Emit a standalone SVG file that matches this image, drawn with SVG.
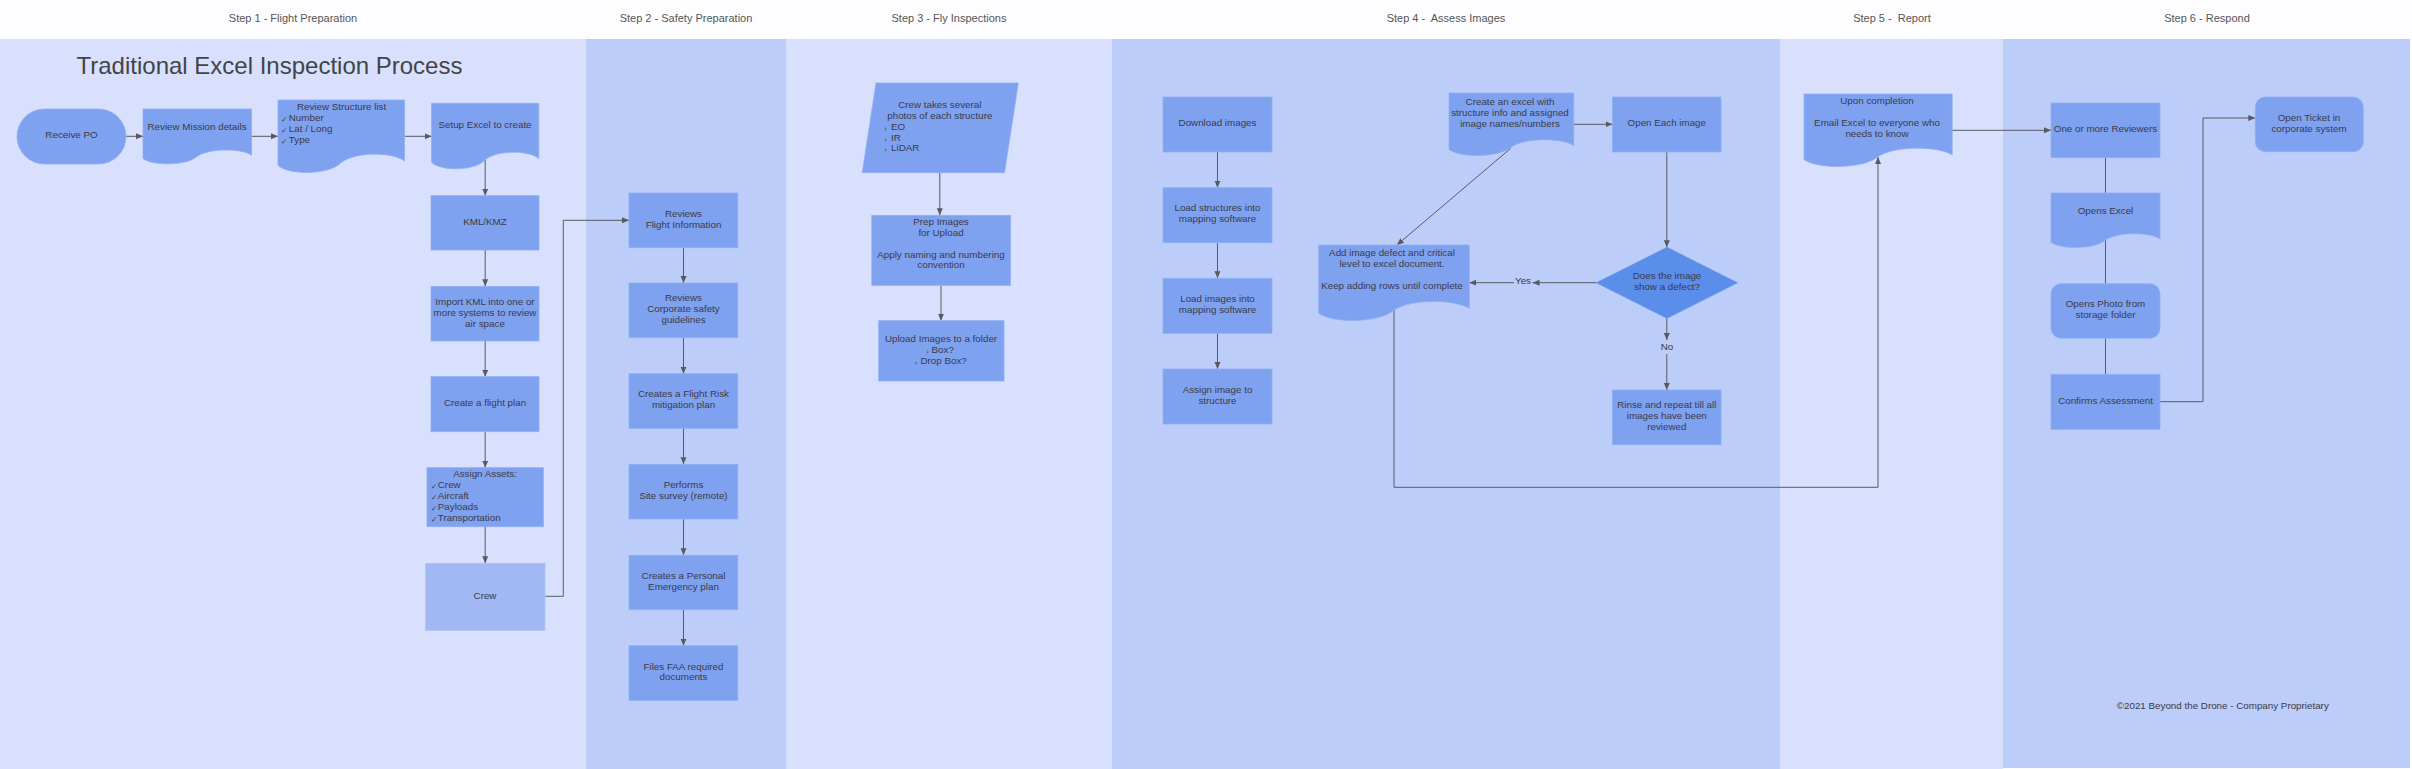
<svg xmlns="http://www.w3.org/2000/svg" width="2412" height="769" viewBox="0 0 2412 769">
<style>
.lh{fill:#d8e0fe}
.ld{fill:#bccdf9}
.n{fill:#7fa2f0;stroke:#90aff3;stroke-width:0.8}
.c{fill:none;stroke:#5a5a5e;stroke-width:1}
.t{font-family:"Liberation Sans",Arial,sans-serif;font-size:9.8px;fill:#3a3a48;text-anchor:middle}
.s{text-anchor:start}
.h{font-family:"Liberation Sans",Arial,sans-serif;font-size:11px;fill:#555;text-anchor:middle}
.ck{font-family:"DejaVu Sans",sans-serif;font-size:7.5px;fill:#3a3a48}
</style>
<defs>
<marker id="a" markerUnits="userSpaceOnUse" markerWidth="8" markerHeight="7" refX="7" refY="3" orient="auto">
<path d="M0,0 L7,3 L0,6 Z" fill="#5a5a5e"/>
</marker>
</defs>
<rect x="0" y="0" width="2412" height="769" fill="#fdfdff"/>
<g id="lanes">
<rect class="lh" x="0" y="39" width="586" height="730"/>
<rect class="ld" x="586" y="39" width="200" height="730"/>
<rect class="lh" x="786" y="39" width="326" height="730"/>
<rect class="ld" x="1112" y="39" width="668" height="730"/>
<rect class="lh" x="1780" y="39" width="223" height="730"/>
<rect class="ld" x="2003" y="39" width="407" height="729"/>
<text class="h" x="293" y="22">Step 1 - Flight Preparation</text>
<text class="h" x="686" y="22">Step 2 - Safety Preparation</text>
<text class="h" x="949" y="22">Step 3 - Fly Inspections</text>
<text class="h" x="1446" y="22" xml:space="preserve">Step 4 -  Assess Images</text>
<text class="h" x="1892" y="22" xml:space="preserve">Step 5 -  Report</text>
<text class="h" x="2207" y="22">Step 6 - Respond</text>
</g>
<text x="76.5" y="74" font-family="Liberation Sans, Arial, sans-serif" font-size="24" fill="#444">Traditional Excel Inspection Process</text>
<g id="connectors">
<path class="c" marker-end="url(#a)" d="M126,136.3 H143"/>
<path class="c" marker-end="url(#a)" d="M251.5,136.3 H278"/>
<path class="c" marker-end="url(#a)" d="M404.5,136.3 H431.6"/>
<path class="c" marker-end="url(#a)" d="M485.2,160 V195.7"/>
<path class="c" marker-end="url(#a)" d="M485.2,250 V286.3"/>
<path class="c" marker-end="url(#a)" d="M485.2,341 V376.7"/>
<path class="c" marker-end="url(#a)" d="M485.2,431.7 V467.7"/>
<path class="c" marker-end="url(#a)" d="M485.2,526.7 V563.3"/>
<path class="c" marker-end="url(#a)" d="M545,596.3 H563.3 V220.3 H629"/>
<path class="c" marker-end="url(#a)" d="M683.5,247.7 V283"/>
<path class="c" marker-end="url(#a)" d="M683.5,337.7 V373.7"/>
<path class="c" marker-end="url(#a)" d="M683.5,428.3 V464.3"/>
<path class="c" marker-end="url(#a)" d="M683.5,519 V555.3"/>
<path class="c" marker-end="url(#a)" d="M683.5,609.7 V645.7"/>
<path class="c" marker-end="url(#a)" d="M939.8,172.7 V215.3"/>
<path class="c" marker-end="url(#a)" d="M941,285.3 V320.7"/>
<path class="c" marker-end="url(#a)" d="M1217.5,152 V187.7"/>
<path class="c" marker-end="url(#a)" d="M1217.5,242.7 V278.3"/>
<path class="c" marker-end="url(#a)" d="M1217.5,333.3 V369"/>
<path class="c" marker-end="url(#a)" d="M1573.7,124.3 H1612.5"/>
<path class="c" marker-end="url(#a)" d="M1510.7,148.3 L1396.9,245"/>
<path class="c" marker-end="url(#a)" d="M1666.8,152 V247.3"/>
<path class="c" marker-end="url(#a)" d="M1596.4,282.7 H1532.5"/>
<path class="c" marker-end="url(#a)" d="M1514,282.7 H1469.3"/>
<path class="c" marker-end="url(#a)" d="M1666.8,318.3 V340"/>
<path class="c" marker-end="url(#a)" d="M1666.8,354 V390"/>
<path class="c" marker-end="url(#a)" d="M1394,310 V487.3 H1878 V157"/>
<path class="c" marker-end="url(#a)" d="M1952.2,130.3 H2051"/>
<path class="c" d="M2105.5,157.7 V193"/>
<path class="c" d="M2105.5,240 V283.7"/>
<path class="c" d="M2105.5,338.3 V374.3"/>
<path class="c" marker-end="url(#a)" d="M2160,401.7 H2203 V118 H2255.3"/>
<text class="t" x="1523" y="284">Yes</text>
<text class="t" x="1667" y="350">No</text>
</g>
<g id="receive-po">
<rect class="n" x="17" y="109" width="109" height="55" rx="27.5"/>
<text class="t" x="71.5" y="138">Receive PO</text>
</g>
<g id="review-mission">
<path class="n" d="M143,109 H251.5 V155.2 C242.8,148.6 210.3,147.5 197.25,156.3 C186.4,166.2 151.7,165.65 143,158.5 Z"/>
<text class="t" x="197" y="130.4">Review Mission details</text>
</g>
<g id="review-structure">
<path class="n" d="M278,100 H404.5 V161.07 C394.38,152.34 356.43,150.89 341.25,162.52 C328.6,175.61 288.12,174.88 278,165.43 Z"/>
<text class="t" x="341.6" y="110">Review Structure list</text>
<text class="ck" x="281" y="122">✓</text><text class="t s" x="288.8" y="121">Number</text>
<text class="ck" x="281" y="133">✓</text><text class="t s" x="288.8" y="132">Lat / Long</text>
<text class="ck" x="281" y="144.4">✓</text><text class="t s" x="288.8" y="143.4">Type</text>
</g>
<g id="setup-excel">
<path class="n" d="M431.6,103.3 H538.8 V158.49 C530.22,150.6 498.06,149.29 485.2,159.8 C474.48,171.63 440.18,170.97 431.6,162.43 Z"/>
<text class="t" x="485" y="128.4">Setup Excel to create</text>
</g>
<g id="kml">
<rect class="n" x="431" y="195.7" width="108" height="54.3"/>
<text class="t" x="485" y="225">KML/KMZ</text>
</g>
<g id="import-kml">
<rect class="n" x="431" y="286.3" width="108" height="54.7"/>
<text class="t" x="485" y="305.4">Import KML into one or</text>
<text class="t" x="485" y="316">more systems to review</text>
<text class="t" x="485" y="326.6">air space</text>
</g>
<g id="flight-plan">
<rect class="n" x="431" y="376.7" width="108" height="55"/>
<text class="t" x="485" y="406">Create a flight plan</text>
</g>
<g id="assign-assets">
<rect class="n" x="427" y="467.7" width="116.4" height="59"/>
<text class="t" x="485" y="477">Assign Assets:</text>
<text class="ck" x="431" y="489">✓</text><text class="t s" x="437.8" y="488">Crew</text>
<text class="ck" x="431" y="500">✓</text><text class="t s" x="437.8" y="499">Aircraft</text>
<text class="ck" x="431" y="511">✓</text><text class="t s" x="437.8" y="510">Payloads</text>
<text class="ck" x="431" y="522">✓</text><text class="t s" x="437.8" y="521">Transportation</text>
</g>
<g id="crew">
<rect x="425.5" y="563.3" width="119.5" height="67" fill="#a1b8f5" stroke="#adc2f6" stroke-width="0.8"/>
<text class="t" x="485" y="599">Crew</text>
</g>
<g id="reviews-flight">
<rect class="n" x="629" y="193" width="108.8" height="54.7"/>
<text class="t" x="683.5" y="217">Reviews</text>
<text class="t" x="683.5" y="228">Flight Information</text>
</g>
<g id="reviews-safety">
<rect class="n" x="629" y="283" width="108.8" height="54.7"/>
<text class="t" x="683.5" y="301">Reviews</text>
<text class="t" x="683.5" y="312">Corporate safety</text>
<text class="t" x="683.5" y="323">guidelines</text>
</g>
<g id="risk-plan">
<rect class="n" x="629" y="373.7" width="108.8" height="54.6"/>
<text class="t" x="683.5" y="397">Creates a Flight Risk</text>
<text class="t" x="683.5" y="408">mitigation plan</text>
</g>
<g id="site-survey">
<rect class="n" x="629" y="464.3" width="108.8" height="54.7"/>
<text class="t" x="683.5" y="488">Performs</text>
<text class="t" x="683.5" y="499">Site survey (remote)</text>
</g>
<g id="emergency-plan">
<rect class="n" x="629" y="555.3" width="108.8" height="54.4"/>
<text class="t" x="683.5" y="579">Creates a Personal</text>
<text class="t" x="683.5" y="590">Emergency plan</text>
</g>
<g id="faa-docs">
<rect class="n" x="629" y="645.7" width="108.8" height="54.6"/>
<text class="t" x="683.5" y="670">Files FAA required</text>
<text class="t" x="683.5" y="680">documents</text>
</g>
<g id="crew-photos">
<polygon class="n" points="876,83 1018.3,83 1004.5,172.7 862.2,172.7"/>
<text class="t" x="939.8" y="108">Crew takes several</text>
<text class="t" x="939.8" y="119">photos of each structure</text>
<text class="ck" x="884" y="131">›</text><text class="t s" x="891" y="130">EO</text>
<text class="ck" x="884" y="142">›</text><text class="t s" x="891" y="141">IR</text>
<text class="ck" x="884" y="152">›</text><text class="t s" x="891" y="151">LiDAR</text>
</g>
<g id="prep-images">
<rect class="n" x="871.8" y="215.3" width="138.7" height="70"/>
<text class="t" x="941" y="225">Prep Images</text>
<text class="t" x="941" y="236">for Upload</text>
<text class="t" x="941" y="258">Apply naming and numbering</text>
<text class="t" x="941" y="268">convention</text>
</g>
<g id="upload-images">
<rect class="n" x="878.7" y="320.7" width="125.3" height="60.3"/>
<text class="t" x="941" y="342">Upload Images to a folder</text>
<text class="ck" x="926" y="354">›</text><text class="t s" x="931.5" y="353">Box?</text>
<text class="ck" x="914.5" y="365">›</text><text class="t s" x="920.5" y="364">Drop Box?</text>
</g>
<g id="download-images">
<rect class="n" x="1163" y="97" width="109" height="55"/>
<text class="t" x="1217.5" y="126">Download images</text>
</g>
<g id="load-structures">
<rect class="n" x="1163" y="187.7" width="109" height="55"/>
<text class="t" x="1217.5" y="211">Load structures into</text>
<text class="t" x="1217.5" y="222">mapping software</text>
</g>
<g id="load-images">
<rect class="n" x="1163" y="278.3" width="109" height="55"/>
<text class="t" x="1217.5" y="302">Load images into</text>
<text class="t" x="1217.5" y="313">mapping software</text>
</g>
<g id="assign-image">
<rect class="n" x="1163" y="369" width="109" height="55"/>
<text class="t" x="1217.5" y="393">Assign image to</text>
<text class="t" x="1217.5" y="404">structure</text>
</g>
<g id="create-excel">
<path class="n" d="M1449,93 H1573.7 V145.67 C1563.72,138.14 1526.31,136.89 1511.35,146.92 C1498.88,158.21 1458.98,157.58 1449,149.43 Z"/>
<text class="t" x="1510" y="105">Create an excel with</text>
<text class="t" x="1510" y="116">structure info and assigned</text>
<text class="t" x="1510" y="127">image names/numbers</text>
</g>
<g id="open-each-image">
<rect class="n" x="1612.5" y="97" width="108.5" height="55"/>
<text class="t" x="1666.8" y="126">Open Each image</text>
</g>
<g id="defect-decision">
<polygon points="1667,247.3 1737.5,282.8 1667,318.3 1596.4,282.8" fill="#5a8eea" stroke="#6a98ec" stroke-width="0.8"/>
<text class="t" x="1667" y="279">Does the image</text>
<text class="t" x="1667" y="290">show a defect?</text>
</g>
<g id="add-defect">
<path class="n" d="M1318.75,245 H1469.25 V308.59 C1457.21,299.5 1412.06,297.99 1394,310.1 C1378.95,323.73 1330.79,322.97 1318.75,313.13 Z"/>
<text class="t" x="1392" y="256">Add image defect and critical</text>
<text class="t" x="1392" y="267">level to excel document.</text>
<text class="t" x="1392" y="289">Keep adding rows until complete</text>
</g>
<g id="rinse-repeat">
<rect class="n" x="1612.5" y="390" width="108.5" height="54.7"/>
<text class="t" x="1666.8" y="408">Rinse and repeat till all</text>
<text class="t" x="1666.8" y="419">images have been</text>
<text class="t" x="1666.8" y="430">reviewed</text>
</g>
<g id="email-excel">
<path class="n" d="M1804,94 H1952.2 V155.07 C1940.34,146.34 1895.88,144.89 1878.1,156.52 C1863.28,169.61 1815.86,168.88 1804,159.43 Z"/>
<text class="t" x="1877" y="104">Upon completion</text>
<text class="t" x="1877" y="126">Email Excel to everyone who</text>
<text class="t" x="1877" y="137">needs to know</text>
</g>
<g id="reviewers">
<rect class="n" x="2051" y="103" width="109" height="54.7"/>
<text class="t" x="2105.5" y="132">One or more Reviewers</text>
</g>
<g id="opens-excel">
<path class="n" d="M2051,193 H2160 V238.95 C2151.28,232.38 2118.58,231.29 2105.5,240.04 C2094.6,249.89 2059.72,249.34 2051,242.23 Z"/>
<text class="t" x="2105.5" y="214">Opens Excel</text>
</g>
<g id="opens-photo">
<rect class="n" x="2051" y="283.7" width="109" height="54.6" rx="10"/>
<text class="t" x="2105.5" y="307">Opens Photo from</text>
<text class="t" x="2105.5" y="318">storage folder</text>
</g>
<g id="confirms">
<rect class="n" x="2051" y="374.3" width="109" height="55"/>
<text class="t" x="2105.5" y="404">Confirms Assessment</text>
</g>
<g id="open-ticket">
<rect class="n" x="2255.3" y="97" width="108" height="54.7" rx="10"/>
<text class="t" x="2309" y="121">Open Ticket in</text>
<text class="t" x="2309" y="132">corporate system</text>
</g>
<text class="t" x="2222.8" y="709">©2021 Beyond the Drone - Company Proprietary</text>
</svg>
